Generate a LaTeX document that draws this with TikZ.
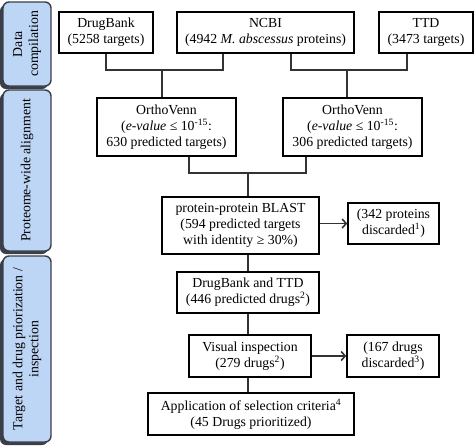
\documentclass[tikz,border=0pt]{standalone}
\usepackage{fontspec}
\setmainfont{Liberation Serif}
\usepackage{tikz}
\usetikzlibrary{positioning, arrows.meta}

\definecolor{sidefill}{RGB}{190,214,246}
\definecolor{sideline}{RGB}{58,62,72}

\begin{document}
\begin{tikzpicture}[
                x=1pt, y=-1pt, % 按像素坐标, y 向下
                font=\fontsize{13.8}{16}\selectfont, % 字体大小
                box/.style={
                    draw, % 绘制边框
                    line width=1.5pt,
                    align=center, % 文字居中
                    inner sep=2pt,
                    minimum height=41pt
                },
                side/.style={draw=sideline, fill=sidefill, line width=1.4pt, rounded corners=6pt},
                shade/.style={fill=sideline, rounded corners=6pt},
                link/.style={line width=1.6pt, draw=black!80},
                arr/.style={link, -{Straight Barb[length=4pt,width=9pt]}}
            ]
            \useasboundingbox (0,0) rectangle (474,445);

            % 左侧阶段标签
            \fill[shade] (0,5) rectangle (48,89);
            \draw[side] (3,2) rectangle (51,86);
            \fill[shade] (0,93) rectangle (48,254);
            \draw[side] (3,90) rectangle (51,251);
            \fill[shade] (0,259) rectangle (48,445);
            \draw[side] (3,256) rectangle (51,442);
            \node[rotate=90, align=center] (s1) at (27,44) {Data\\compilation};
            \node[rotate=90] (s2) at (27,170.5) {Proteome-wide alignment};
            \node[rotate=90, align=center] (s3) at (27,349) {Target and drug priorization /\\inspection};

            % 数据来源
            \node[box, minimum width=94pt] (db) at (106,32.5) {DrugBank\\(5258 targets)};
            \node[box, minimum width=177pt] (ncbi) at (265.5,32.5) {NCBI\\(4942 \textit{M. abscessus} proteins)};
            \node[box, minimum width=94pt] (ttd) at (426,32.5) {TTD\\(3473 targets)};

            % OrthoVenn 比对
            \node[box, minimum width=139pt, minimum height=58pt] (ov1) at (166.5,127)
                {OrthoVenn\\(\textit{e-value} ≤ 10\textsuperscript{-15}:\\630 predicted targets)};
            \node[box, minimum width=139pt, minimum height=58pt] (ov2) at (352.5,127)
                {OrthoVenn\\(\textit{e-value} ≤ 10\textsuperscript{-15}:\\306 predicted targets)};

            % BLAST 及后续筛选
            \node[box, minimum width=157pt, minimum height=57pt] (blast) at (240.5,225.5)
                {protein-protein BLAST\\(594 predicted targets\\with identity ≥ 30\%)};
            \node[box, minimum width=91pt] (disc1) at (393.5,223.5) {(342 proteins\\discarded\textsuperscript{1})};
            \node[box, minimum width=142pt] (dbttd) at (248,292.5) {DrugBank and TTD\\(446 predicted drugs\textsuperscript{2})};
            \node[box, minimum width=122pt, minimum height=42pt] (vis) at (250,356) {Visual inspection\\(279 drugs\textsuperscript{2})};
            \node[box, minimum width=92pt, minimum height=42pt] (disc3) at (393,356) {(167 drugs\\discarded\textsuperscript{3})};
            \node[box, minimum width=206pt, minimum height=42pt] (app) at (251,414)
                {Application of selection criteria\textsuperscript{4}\\(45 Drugs prioritized)};

            % 连接点
            \coordinate (j1) at (162,70);
            \coordinate (j2) at (347,70);
            \coordinate (j3) at (248,173);
            \coordinate (ncbiL) at ([xshift=-42.5pt]ncbi.south);
            \coordinate (ncbiR) at ([xshift=25.5pt]ncbi.south);
            \coordinate (ttdL) at ([xshift=-19pt]ttd.south);
            \coordinate (ov1R) at ([xshift=22.5pt]ov1.south);
            \coordinate (ov2L) at ([xshift=-46.5pt]ov2.south);

            \draw[link] (db.south) |- (j1) -| (ncbiL);
            \draw[link] (ncbiR) |- (j2) -| (ttdL);
            \draw[link] (j1) -- (j1 |- ov1.north);
            \draw[link] (j2) -- (j2 |- ov2.north);
            \draw[link] (ov1R) |- (j3) -| (ov2L);
            \draw[link] (j3) -- (j3 |- blast.north);
            \draw[link] (j3 |- blast.south) -- (j3 |- dbttd.north);
            \draw[link] (j3 |- dbttd.south) -- (j3 |- vis.north);
            \draw[link] (j3 |- vis.south) -- (j3 |- app.north);
            \draw[arr] (blast.east |- disc1) -- (disc1.west);
            \draw[arr] (vis.east |- disc3) -- (disc3.west);
\end{tikzpicture}
\end{document}
